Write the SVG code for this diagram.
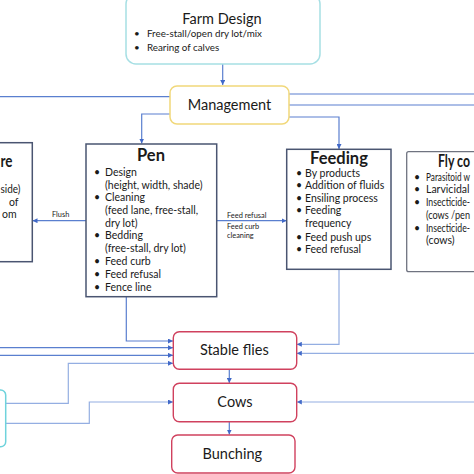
<svg xmlns="http://www.w3.org/2000/svg" width="474" height="474" viewBox="0 0 474 474">
<defs>
<marker id="ah" viewBox="0 0 6 6" refX="6" refY="3" markerWidth="5" markerHeight="5" orient="auto" markerUnits="userSpaceOnUse">
<path d="M0,0 L6,3 L0,6 Z" fill="#4169c8"/>
</marker>
<style>
text{font-family:Lato,"Open Sans","Liberation Sans",sans-serif;fill:#1a1a1a}
.title{font-size:14.5px;text-anchor:middle}
.bt{font-size:16.5px;font-weight:bold;text-anchor:middle}
.it{font-size:10.5px}
.fd{font-size:9.8px}
.sm{font-size:7.4px}
.dark{fill:#fff;stroke:#4a5571;stroke-width:1.5}
.red{fill:#fff;stroke:#d0415e;stroke-width:1.4}
.c{fill:none;stroke:#5a7fcf;stroke-width:1.2}
.cl{fill:none;stroke:#94aee2;stroke-width:1.2}
</style>
</defs>
<rect width="474" height="474" fill="#fff"/>
<g id="connectors">
<path class="c" d="M222.7,64 V85" marker-end="url(#ah)"/>
<path class="c" d="M0,96.7 H170"/>
<path class="c" d="M289,94 H474"/>
<path class="c" d="M289,105 H474"/>
<path class="c" d="M170,114 H141.7 V143.5" marker-end="url(#ah)"/>
<path class="c" d="M289,117 H339 V149" marker-end="url(#ah)"/>
<path class="c" d="M86,220.7 H32.5" marker-end="url(#ah)"/>
<path class="c" d="M216.7,220.7 H286.5" marker-end="url(#ah)"/>
<path class="c" d="M126.3,297 V341 H173" marker-end="url(#ah)"/>
<path class="cl" d="M339,269.5 V344.3 H296.8" marker-end="url(#ah)"/>
<path class="c" d="M0,347.7 H173" marker-end="url(#ah)"/>
<path class="c" d="M0,355.3 H173" marker-end="url(#ah)"/>
<path class="cl" d="M5.7,403.3 H68.3 V363.3 H173" marker-end="url(#ah)"/>
<path class="cl" d="M474,353.3 H296.8" marker-end="url(#ah)"/>
<path class="c" d="M229.3,369.3 V383" marker-end="url(#ah)"/>
<path class="cl" d="M5.7,423.3 H89.3 V402 H173" marker-end="url(#ah)"/>
<path class="cl" d="M474,402 H296.8" marker-end="url(#ah)"/>
<path class="c" d="M229.3,421.7 V434.5" marker-end="url(#ah)"/>
</g>
<g id="farm-design">
<rect x="126" y="-6" width="194" height="70" rx="10" fill="#fff" stroke="#a6dfe4" stroke-width="1.5"/>
<text class="title" x="222" y="24">Farm Design</text>
<text class="fd" x="134" y="37">•</text>
<text class="fd" x="147" y="37">Free-stall/open dry lot/mix</text>
<text class="fd" x="134" y="51">•</text>
<text class="fd" x="147" y="51">Rearing of calves</text>
</g>
<g id="management">
<rect x="170" y="86" width="119" height="38" rx="7" fill="#fff" stroke="#f1d87a" stroke-width="1.5"/>
<text class="title" x="229.5" y="110">Management</text>
</g>
<g id="left-box">
<rect x="-6" y="142.7" width="38.3" height="119" class="dark"/>
<text class="bt" x="0.5" y="167" style="text-anchor:start" textLength="12" lengthAdjust="spacingAndGlyphs">re</text>
<text class="it" x="0.5" y="193" textLength="20" lengthAdjust="spacingAndGlyphs">side)</text>
<text class="it" x="9" y="206">of</text>
<text class="it" x="2" y="218">om</text>
</g>
<g id="pen">
<rect x="86" y="144" width="130.7" height="152.7" class="dark"/>
<text class="bt" x="151" y="161">Pen</text>
<text class="it" x="94" y="176">•</text><text class="it" x="105" y="176">Design</text>
<text class="it" x="105" y="188.5">(height, width, shade)</text>
<text class="it" x="94" y="201">•</text><text class="it" x="105" y="201">Cleaning</text>
<text class="it" x="105" y="213.7">(feed lane, free-stall,</text>
<text class="it" x="105" y="226.5">dry lot)</text>
<text class="it" x="94" y="239.3">•</text><text class="it" x="105" y="239.3">Bedding</text>
<text class="it" x="105" y="252.3">(free-stall, dry lot)</text>
<text class="it" x="94" y="265">•</text><text class="it" x="105" y="265">Feed curb</text>
<text class="it" x="94" y="277.7">•</text><text class="it" x="105" y="277.7">Feed refusal</text>
<text class="it" x="94" y="290.5">•</text><text class="it" x="105" y="290.5">Fence line</text>
</g>
<g id="feeding">
<rect x="286.7" y="149.3" width="104.3" height="120" class="dark" stroke-width="2"/>
<text class="bt" x="339" y="163.5">Feeding</text>
<text class="it" x="296" y="176.7">•</text><text class="it" x="305" y="176.7">By products</text>
<text class="it" x="296" y="189.3">•</text><text class="it" x="305" y="189.3">Addition of fluids</text>
<text class="it" x="296" y="202">•</text><text class="it" x="305" y="202">Ensiling process</text>
<text class="it" x="296" y="214.3">•</text><text class="it" x="305" y="214.3">Feeding</text>
<text class="it" x="305" y="227.3">frequency</text>
<text class="it" x="296" y="240.7">•</text><text class="it" x="305" y="240.7">Feed push ups</text>
<text class="it" x="296" y="253.3">•</text><text class="it" x="305" y="253.3">Feed refusal</text>
</g>
<g id="fly-control">
<rect x="406.7" y="151.7" width="80" height="120" rx="2" fill="#fff" stroke="#6f7380" stroke-width="1.3"/>
<text class="bt" x="438" y="166.7" style="text-anchor:start" textLength="32" lengthAdjust="spacingAndGlyphs">Fly co</text>
<text class="it" x="414" y="180.7">•</text><text class="it" x="426" y="180.7" textLength="44" lengthAdjust="spacingAndGlyphs">Parasitoid w</text>
<text class="it" x="414" y="193.3">•</text><text class="it" x="426" y="193.3">Larvicidal</text>
<text class="it" x="414" y="206">•</text><text class="it" x="426" y="206" textLength="44" lengthAdjust="spacingAndGlyphs">Insecticide-</text>
<text class="it" x="426" y="218.7" textLength="44" lengthAdjust="spacingAndGlyphs">(cows /pen</text>
<text class="it" x="414" y="231.7">•</text><text class="it" x="426" y="231.7" textLength="44" lengthAdjust="spacingAndGlyphs">Insecticide-</text>
<text class="it" x="426" y="244">(cows)</text>
</g>
<g id="labels">
<text class="sm" x="52" y="217">Flush</text>
<text class="sm" x="227" y="218.3">Feed refusal</text>
<text class="sm" x="227" y="229">Feed curb</text>
<text class="sm" x="227" y="238">cleaning</text>
</g>
<g id="stable-flies">
<rect x="173.3" y="331.7" width="123.4" height="37.6" rx="6" class="red"/>
<text class="title" x="234.3" y="354.5">Stable flies</text>
</g>
<g id="cows">
<rect x="173.3" y="383.3" width="123.4" height="38.4" rx="6" class="red"/>
<text class="title" x="235" y="407">Cows</text>
</g>
<g id="bunching">
<rect x="171.7" y="435" width="123.3" height="38" rx="6" class="red"/>
<text class="title" x="232.3" y="458.5">Bunching</text>
</g>
<g id="cyan-box">
<rect x="-10" y="390" width="15.7" height="56.7" rx="5" fill="#fff" stroke="#6fd3dc" stroke-width="1.5"/>
</g>
</svg>
